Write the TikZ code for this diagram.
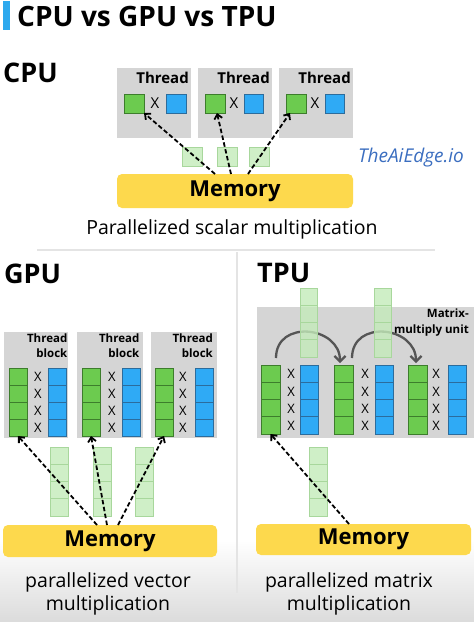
\documentclass[tikz,border=0pt]{standalone}
\usepackage{fontspec}
\setmainfont{Open Sans}
\usetikzlibrary{arrows.meta,calc}
\definecolor{gfill}{HTML}{6CCB4F}
\definecolor{gdraw}{HTML}{3D7D2C}
\definecolor{bfill}{HTML}{2FAAF5}
\definecolor{bdraw}{HTML}{2C6C9C}
\definecolor{boxgray}{HTML}{D5D5D5}
\definecolor{lgfill}{HTML}{C4EBBA}
\definecolor{lgdraw}{HTML}{A8D79C}
\definecolor{memy}{HTML}{FDD94D}
\definecolor{titleblue}{HTML}{2EA9EE}
\definecolor{brand}{HTML}{3B6EC0}
\definecolor{sepgray}{HTML}{E4E4E4}
\definecolor{arcgray}{HTML}{555555}
\newcommand{\cellcol}[6]{%
  \foreach \k in {1,2,3,4}{%
    \node[#6,minimum width=#4,minimum height=#5] (#1\k) at (#2,{#3+(\k-1)*#5}) {};}}
\tikzset{
  base/.style={inner sep=0pt, outer sep=0pt, anchor=north west},
  gbox/.style={base, fill=boxgray},
  gsq/.style={base, fill=gfill, draw=gdraw, line width=0.9pt},
  bsq/.style={base, fill=bfill, draw=bdraw, line width=0.9pt},
  lsq/.style={base, fill=lgfill, draw=lgdraw, line width=0.7pt, fill opacity=0.8},
  mem/.style={base, fill=memy, rounded corners=5pt},
  dasharr/.style={draw=black, line width=1.8pt, dash pattern=on 4.5pt off 2.5pt, -{Straight Barb[length=4.5pt,width=8pt]}},
  arcarr/.style={draw=arcgray, line width=2.3pt, -{Straight Barb[length=5.5pt,width=11pt]}},
  heading/.style={inner sep=0pt, anchor=base west, font=\bfseries\fontsize{27}{30}\selectfont},
  lblbig/.style={inner sep=0pt, anchor=base east, font=\bfseries\fontsize{15}{17}\selectfont},
  lblsmall/.style={inner sep=0pt, anchor=north east, align=right, font=\bfseries\fontsize{11.5}{15.5}\selectfont},
  xbig/.style={inner sep=0pt, font=\fontsize{15}{16}\selectfont},
  xsmall/.style={inner sep=0pt, font=\fontsize{13}{13}\selectfont},
  captxt/.style={inner sep=0pt, align=center, font=\fontsize{19.5}{22.5}\selectfont},
  memtxt/.style={font=\bfseries\fontsize{22}{24}\selectfont}
}
\begin{document}
\begin{tikzpicture}[x=1pt,y=-1pt]
\useasboundingbox (0,0) rectangle (474,622);
\fill[white] (0,0) rectangle (474,622);
\shade[top color=white, bottom color=black!14] (0,540) rectangle (474,622);
% separators
\draw[sepgray, line width=1.3pt] (37,250) -- (435,250);
\draw[sepgray, line width=1.3pt] (237,252) -- (237,593);
% title
\fill[titleblue] (3,1) rectangle (10,30);
\node[inner sep=0pt, anchor=base west, font=\bfseries\fontsize{28}{30}\selectfont] (title) at (17,26) {CPU vs GPU vs TPU};

% ================= CPU =================
\node[heading] (cpuh) at (3,82) {CPU};
\node[gbox,minimum width=74,minimum height=70] (ct1) at (117,68) {};
\node[gbox,minimum width=74,minimum height=70] (ct2) at (198,68) {};
\node[gbox,minimum width=74,minimum height=70] (ct3) at (279,68) {};
\node[lblbig] (ctl1) at (189,83.5) {Thread};
\node[lblbig] (ctl2) at (270,83.5) {Thread};
\node[lblbig] (ctl3) at (351,83.5) {Thread};
\node[gsq,minimum width=20,minimum height=19] (cg1) at (124,94) {};
\node[gsq,minimum width=20,minimum height=19] (cg2) at (205,94) {};
\node[gsq,minimum width=20,minimum height=19] (cg3) at (286,94) {};
\node[xbig] (cx1) at (155,103.5) {X};
\node[xbig] (cx2) at (234,103.5) {X};
\node[xbig] (cx3) at (315,103.5) {X};
\node[bsq,minimum width=20,minimum height=19] (cb1) at (166,94) {};
\node[bsq,minimum width=19,minimum height=19] (cb2) at (244,94) {};
\node[bsq,minimum width=19,minimum height=19] (cb3) at (325,94) {};
\node[lsq,minimum width=20,minimum height=19] (cl1) at (182,147) {};
\node[lsq,minimum width=20,minimum height=19] (cl2) at (217,147) {};
\node[lsq,minimum width=20,minimum height=19] (cl3) at (249,147) {};
\node[mem,memtxt,minimum width=236,minimum height=34] (cmem) at (117,174) {Memory};
\coordinate (cm1) at (215,174);
\coordinate (cm2) at (231,174);
\coordinate (cm3) at (248,174);
\draw[dasharr] (cm1) -- (cg1.south east);
\draw[dasharr] (cm2) -- ($(cg2.south)+(2,0)$);
\draw[dasharr] (cm3) -- ($(cg3.south west)+(4,0)$);
\node[inner sep=0pt, anchor=west, text=brand, font=\itshape\fontsize{19}{20}\selectfont] (brandtxt) at (358,158) {TheAiEdge.io};
\node[captxt] (ccap) at (232,229) {Parallelized scalar multiplication};

% ================= GPU =================
\node[heading] (gpuh) at (4,283) {GPU};
\node[gbox,minimum width=64,minimum height=106] (gt1) at (4,332) {};
\node[gbox,minimum width=66,minimum height=106] (gt2) at (77,332) {};
\node[gbox,minimum width=66,minimum height=106] (gt3) at (151,332) {};
\node[lblsmall] (gtl1) at (67.5,333.5) {Thread\\block};
\node[lblsmall] (gtl2) at (139.5,333.5) {Thread\\block};
\node[lblsmall] (gtl3) at (213,333.5) {Thread\\block};
\cellcol{gga}{9}{368}{18}{17}{gsq}
\cellcol{ggb}{82}{368}{18}{17}{gsq}
\cellcol{ggc}{155}{368}{18}{17}{gsq}
\cellcol{gba}{48}{368}{18}{17}{bsq}
\cellcol{gbb}{122}{368}{18}{17}{bsq}
\cellcol{gbc}{195}{368}{18}{17}{bsq}
\foreach \yy [count=\n] in {376.5,393.5,410.5,427.5}{
  \node[xsmall] (gxa\n) at (38,\yy) {X};
  \node[xsmall] (gxb\n) at (112,\yy) {X};
  \node[xsmall] (gxc\n) at (183,\yy) {X};
}
\cellcol{gla}{50}{447}{18}{17.25}{lsq}
\cellcol{glb}{93}{447}{18}{17.25}{lsq}
\cellcol{glc}{135}{447}{18}{17.25}{lsq}
\node[mem,memtxt,minimum width=214,minimum height=32] (gmem) at (3,525) {Memory};
\coordinate (gm1) at (97,525);
\coordinate (gm2) at (107,525);
\coordinate (gm3) at (118,525);
\draw[dasharr] (gm1) -- (gga4.south);
\draw[dasharr] (gm2) -- (ggb4.south);
\draw[dasharr] (gm3) -- (ggc4.south);
\node[captxt] (gcap) at (108,594) {parallelized vector\\multiplication};

% ================= TPU =================
\node[heading] (tpuh) at (257,282) {TPU};
\node[gbox,minimum width=217,minimum height=131] (tbox) at (257,307) {};
\node[lblsmall] (tlbl) at (469,309) {Matrix-\\multiply unit};
\cellcol{tga}{261}{365}{19}{17.25}{gsq}
\cellcol{tgb}{334}{365}{19}{17.25}{gsq}
\cellcol{tgc}{408}{365}{19}{17.25}{gsq}
\cellcol{tba}{300}{365}{18}{17.25}{bsq}
\cellcol{tbb}{375}{365}{18}{17.25}{bsq}
\cellcol{tbc}{448}{365}{18}{17.25}{bsq}
\foreach \yy [count=\n] in {374,391.5,408.5,426}{
  \node[xsmall] (txa\n) at (291,\yy) {X};
  \node[xsmall] (txb\n) at (365,\yy) {X};
  \node[xsmall] (txc\n) at (436,\yy) {X};
}
\draw[arcarr] ($(tga1.north east)+(-4,-7)$) .. controls +(0,-39) and +(0,-37) .. ($(tgb1.north west)+(6,-2)$);
\draw[arcarr] ($(tgb1.north east)+(-1,-7)$) .. controls +(0,-39) and +(0,-37) .. ($(tgc1.north west)+(8,-2)$);
\cellcol{tla}{300}{288}{17}{17.25}{lsq}
\cellcol{tlb}{374}{288}{17}{17.25}{lsq}
\cellcol{tlc}{309}{447}{18}{17.25}{lsq}
\node[mem,memtxt,minimum width=215,minimum height=31] (tmem) at (256,524) {Memory};
\coordinate (tm1) at (349,524);
\draw[dasharr] (tm1) -- (tga4.south);
\node[captxt] (tcap) at (349,594) {parallelized matrix\\multiplication};
\end{tikzpicture}
\end{document}
